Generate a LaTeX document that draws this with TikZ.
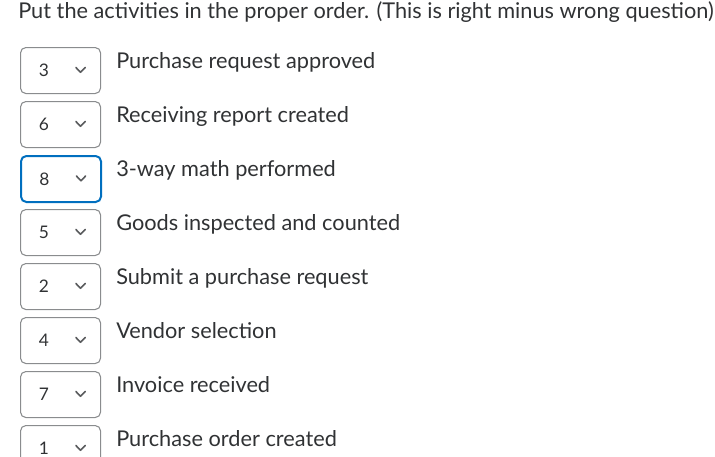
\documentclass[tikz,border=0pt]{standalone}
\usepackage{fontspec}
\setmainfont{Lato}
\definecolor{txt}{HTML}{303234}
\definecolor{bord}{HTML}{8A8C8E}
\definecolor{sel}{HTML}{006FBF}
\begin{document}
\begin{tikzpicture}[x=0.75pt,y=-0.75pt,
  sbox/.style={draw=bord,line width=0.8pt,rounded corners=4pt,minimum width=60pt,minimum height=34.5pt,inner sep=0pt},
  selbox/.style={sbox,draw=sel,line width=1.5pt},
  num/.style={font=\fontsize{13}{15}\selectfont,text=txt},
  lbl/.style={anchor=base west,font=\fontsize{16.3}{19}\selectfont,text=txt,inner sep=0pt},
  chev/.style={draw=txt!80,line width=1.2pt,line cap=round,line join=round}]
\useasboundingbox (0,0) rectangle (715,457);
\node[anchor=base west,inner sep=0pt,font=\fontsize{16.3}{19}\selectfont,text=txt] (title) at (18,18) {Put the activities in the proper order. (This is right minus wrong question)};
\foreach \n/\t/\i in {3/Purchase request approved/0,6/Receiving report created/1,8/3-way math performed/2,5/Goods inspected and counted/3,2/Submit a purchase request/4,4/Vendor selection/5,7/Invoice received/6,1/Purchase order created/7}{
  \pgfmathsetmacro{\yy}{47+54*\i}
  \ifnum\i=2
    \node[selbox,anchor=north west] (b\i) at (20,\yy) {};
  \else
    \node[sbox,anchor=north west] (b\i) at (20,\yy) {};
  \fi
  \node[num] (n\i) at ([xshift=-12.5pt]b\i.center) {\n};
  \coordinate (c\i) at ([xshift=15pt,yshift=0.5pt]b\i.center);
  \draw[chev] ([xshift=-3.5pt,yshift=1.8pt]c\i) -- ([yshift=-1.8pt]c\i) -- ([xshift=3.5pt,yshift=1.8pt]c\i);
  \node[lbl] (l\i) at (116,\yy+21) {\t};
}
\end{tikzpicture}
\end{document}
